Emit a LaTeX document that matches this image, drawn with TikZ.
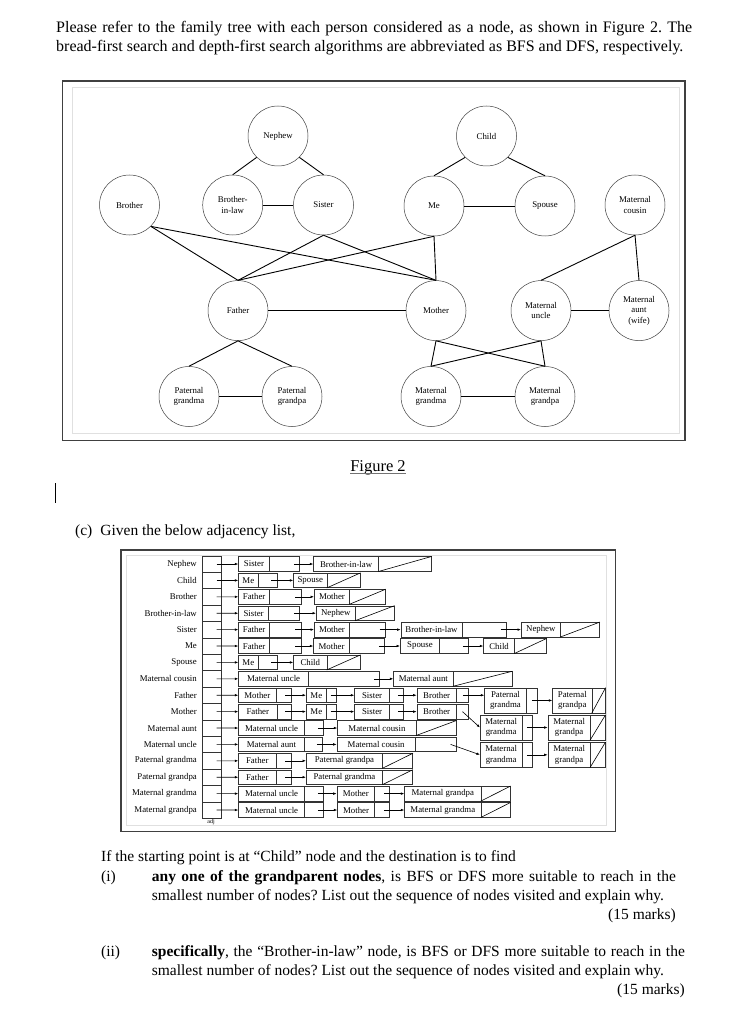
\documentclass[tikz,border=0pt]{standalone}
\usepackage{fontspec}
\setmainfont{Liberation Serif}
\usetikzlibrary{arrows.meta}
\frenchspacing

% one list node: [opts]{name}{x left}{x split}{x right}{y}{text}
\newcommand{\listcell}[7][]{%
  \node[datacell,#1,minimum width={#4-#3}] (#2) at (#3,#6) {#7};
  \node[ptrcell,#1,minimum width={#5-#4}] (#2p) at (#4,#6) {};}
% last list node, pointer field crossed out
\newcommand{\listend}[7][]{%
  \listcell[#1]{#2}{#3}{#4}{#5}{#6}{#7}
  \draw[nullmark] (#2p.south west) -- (#2p.north east);}
\newcommand{\listlink}[2]{\draw[link] (#1p.east) ++(-6,0) -- (#2.west);}

\begin{document}
\begin{tikzpicture}[x=1pt, y=-1pt,
    prose/.style={anchor=base west, inner sep=0pt, font=\fontsize{15.5}{19}\selectfont},
    intro/.style={prose, font=\fontsize{16}{19}\selectfont},
    person/.style={draw=black!75, circle, minimum size=60pt, inner sep=0pt, align=center,
                   line width=0.5pt, font=\fontsize{8.8}{10.5}\selectfont},
    tie/.style={line width=0.9pt},
    frame/.style={draw=black!75, line width=1.2pt},
    innerframe/.style={draw=black!12, line width=0.8pt},
    rowname/.style={anchor=east, inner sep=0pt, font=\fontsize{8.8}{10.5}\selectfont},
    adjcell/.style={draw=black!80, minimum width=19.4pt, minimum height=16.4pt, inner sep=0pt, line width=0.6pt},
    datacell/.style={draw=black!80, anchor=west, minimum height=14.5pt, inner sep=0pt, align=center,
                     line width=0.6pt, font=\fontsize{8.8}{10.5}\selectfont},
    ptrcell/.style={draw=black!80, anchor=west, minimum height=14.5pt, inner sep=0pt, line width=0.6pt},
    tall/.style={minimum height=25pt},
    nullmark/.style={line width=0.6pt},
    link/.style={line width=0.6pt, -{Latex[length=3.5pt,width=2.6pt]}}]

\fill[white] (0,0) rectangle (750,1024);
\useasboundingbox (0,0) rectangle (750,1024);

% question text
\node[intro] (intro1) at (56,32.7) {\makebox[636pt][s]{Please refer to the family tree with each person considered as a node, as shown in Figure 2. The}};
\node[intro] (intro2) at (56,51.7) {bread-first search and depth-first search algorithms are abbreviated as BFS and DFS, respectively.};

% figure 2
\draw[frame] (62.7,81) rectangle (685,440.5);
\draw[innerframe] (72,87) rectangle (679,433);

\node[person] (nephew) at (278,136) {Nephew};
\node[person] (child) at (486.5,136) {Child};
\node[person] (brother) at (129.5,205) {Brother};
\node[person] (bil) at (232.7,205) {Brother-\\in-law};
\node[person] (sister) at (323.5,205) {Sister};
\node[person] (me) at (434,206) {Me};
\node[person] (spouse) at (545,206) {Spouse};
\node[person] (mcousin) at (635,205) {Maternal\\cousin};
\node[person] (father) at (238,310.6) {Father};
\node[person] (mother) at (436,310.6) {Mother};
\node[person] (muncle) at (541,310.6) {Maternal\\uncle};
\node[person] (maunt) at (639,310.6) {Maternal\\aunt\\(wife)};
\node[person] (pgma) at (189,396.5) {Paternal\\grandma};
\node[person] (pgpa) at (292,396.5) {Paternal\\grandpa};
\node[person] (mgma) at (431,396.5) {Maternal\\grandma};
\node[person] (mgpa) at (545,396.5) {Maternal\\grandpa};

\draw[tie] (nephew.south west) -- (bil.north);
\draw[tie] (nephew.south east) -- (sister.north);
\draw[tie] (bil.east) -- (sister.west);
\draw[tie] (child.south west) -- (me.north);
\draw[tie] (child.south east) -- (spouse.north);
\draw[tie] (me.east) -- (spouse.west);
\draw[tie] (brother.south east) -- (father.north);
\draw[tie] (brother.south east) -- (mother.north);
\draw[tie] (sister.south) -- (father.north);
\draw[tie] (sister.south) -- (mother.north);
\draw[tie] (me.south) -- (father.north);
\draw[tie] (me.south) -- (mother.north);
\draw[tie] (mcousin.south) -- (muncle.north);
\draw[tie] (mcousin.south) -- (maunt.north);
\draw[tie] (father.east) -- (mother.west);
\draw[tie] (muncle.east) -- (maunt.west);
\draw[tie] (father.south) -- (pgma.north);
\draw[tie] (father.south) -- (pgpa.north);
\draw[tie] (pgma.east) -- (pgpa.west);
\draw[tie] (mother.south) -- (mgma.north);
\draw[tie] (mother.south) -- (mgpa.north);
\draw[tie] (muncle.south) -- (mgma.north);
\draw[tie] (muncle.south) -- (mgpa.north);
\draw[tie] (mgma.east) -- (mgpa.west);

\node[prose, anchor=base, font=\fontsize{16.5}{19}\selectfont] (figcap) at (378,471) {Figure 2};
\draw[black!55, line width=0.8pt] ([yshift=-2pt]figcap.base west) -- ([yshift=-2pt]figcap.base east);

\draw[line width=1.2pt] (55.5,483) -- (55.5,503);

\node[prose] (partc) at (75,535) {(c)\hspace{8pt}Given the below adjacency list,};

% adjacency list
\draw[frame] (121,550) rectangle (615.5,831.5);
\draw[innerframe] (126.7,555) rectangle (606.7,825);

\foreach \who [count=\i from 0] in {Nephew, Child, Brother, Brother-in-law, Sister, Me, Spouse,
    Maternal cousin, Father, Mother, Maternal aunt, Maternal uncle, Paternal grandma,
    Paternal grandpa, Maternal grandma, Maternal grandpa}
{
  \node[rowname] (name\i) at (197,564+16.4*\i) {\who};
  \node[adjcell] (adj\i) at (212,564+16.4*\i) {};
}
\node[font=\fontsize{6}{7}\selectfont, inner sep=0pt] (adjname) at (211,822) {adj};

\listcell{nep1}{238.3}{269}{299.3}{564}{Sister}
\listend{nep2}{313.3}{378.3}{431}{564}{Brother-in-law}

\listcell{chi1}{238.3}{257.7}{276.7}{580.4}{Me}
\listend{chi2}{293.3}{326.7}{360}{580.4}{Spouse}

\listcell{bro1}{238.3}{269.3}{300.7}{596.8}{Father}
\listend{bro2}{314}{349.3}{385}{596.8}{Mother}

\listcell{bil1}{238.3}{268.3}{299.3}{613.2}{Sister}
\listend{bil2}{316}{355}{394}{613.2}{Nephew}

\listcell{sis1}{238.3}{269.3}{300.7}{629.6}{Father}
\listcell{sis2}{314}{349.3}{385}{629.6}{Mother}
\listcell{sis3}{400.7}{461.7}{506}{629.6}{Brother-in-law}
\listend{sis4}{521}{560}{599.3}{629.6}{Nephew}

\listcell{me1}{238.3}{269.3}{300.7}{646}{Father}
\listcell{me2}{313.3}{349.3}{384.3}{646}{Mother}
\listcell{me3}{400}{439.3}{468.3}{646}{Spouse}
\listend{me4}{483.3}{514.3}{546}{646}{Child}

\listcell{spo1}{238.3}{257.7}{276.7}{662.4}{Me}
\listend{spo2}{293.3}{326.7}{360}{662.4}{Child}

\listcell{cou1}{238.3}{308.3}{379.3}{678.8}{Maternal uncle}
\listend{cou2}{393.3}{452.7}{511.7}{678.8}{Maternal aunt}

\listcell{fat1}{238.3}{275.7}{290.7}{695.2}{Mother}
\listcell{fat2}{306}{326}{336}{695.2}{Me}
\listcell{fat3}{354.3}{389.3}{403.3}{695.2}{Sister}
\listcell{fat4}{416.7}{456}{468.3}{695.2}{Brother}
\listcell[tall]{fat5}{484.3}{526}{537.3}{700.45}{Paternal\\grandma}
\listend[tall]{fat6}{552.3}{591.7}{605}{700.45}{Paternal\\grandpa}

\listcell{mot1}{238.3}{276.7}{290.7}{711.6}{Father}
\listcell{mot2}{306}{326}{336}{711.6}{Me}
\listcell{mot3}{354.3}{389.3}{403.3}{711.6}{Sister}
\listcell{mot4}{416.7}{456}{468.3}{711.6}{Brother}
\listcell[tall]{mot5}{480}{521.7}{532.3}{727.5}{Maternal\\grandma}
\listend[tall]{mot6}{547.7}{590}{605}{727.5}{Maternal\\grandpa}

\listcell{aun1}{238.3}{304.3}{323.3}{728}{Maternal uncle}
\listend{aun2}{337.3}{416}{456}{728}{Maternal cousin}

\listcell{unc1}{238.3}{304}{322.3}{744.4}{Maternal aunt}
\listcell{unc2}{336.7}{415}{456}{744.4}{Maternal cousin}
\listcell[tall]{unc3}{480}{521.7}{532.3}{754.8}{Maternal\\grandma}
\listend[tall]{unc4}{547.7}{590}{605}{754.8}{Maternal\\grandpa}

\listcell{pgm1}{238.3}{275.7}{290.7}{760.8}{Father}
\listend{pgm2}{306}{382.3}{412.3}{760.8}{Paternal grandpa}

\listcell{pgp1}{238.3}{275.7}{290.7}{777.2}{Father}
\listend{pgp2}{306}{382.3}{412.3}{777.2}{Paternal grandma}

\listcell{mgm1}{238.3}{304.3}{323.3}{793.6}{Maternal uncle}
\listcell{mgm2}{336.7}{374.3}{389.3}{793.6}{Mother}
\listend{mgm3}{404.3}{480.7}{510}{793.6}{Maternal grandpa}

\listcell{mgp1}{238.3}{304.3}{323.3}{810}{Maternal uncle}
\listcell{mgp2}{337.3}{374.3}{389.3}{810}{Mother}
\listend{mgp3}{404.3}{480.7}{510}{810}{Maternal grandma}

\foreach \i/\n in {0/nep1, 1/chi1, 2/bro1, 3/bil1, 4/sis1, 5/me1, 6/spo1, 7/cou1,
    8/fat1, 9/mot1, 10/aun1, 11/unc1, 12/pgm1, 13/pgp1, 14/mgm1, 15/mgp1}
  \draw[link] (adj\i.center) ++(4.5,0) -- (\n.west);

\listlink{nep1}{nep2}
\listlink{chi1}{chi2}
\listlink{bro1}{bro2}
\listlink{bil1}{bil2}
\listlink{sis1}{sis2} \listlink{sis2}{sis3} \listlink{sis3}{sis4}
\listlink{me1}{me2} \listlink{me2}{me3} \listlink{me3}{me4}
\listlink{spo1}{spo2}
\listlink{cou1}{cou2}
\listlink{fat1}{fat2} \listlink{fat2}{fat3} \listlink{fat3}{fat4}
\draw[link] (fat4p.east) ++(-6,0) -- (fat5.west |- fat4p.center);
\listlink{fat5}{fat6}
\listlink{mot1}{mot2} \listlink{mot2}{mot3} \listlink{mot3}{mot4}
\draw[link] (mot4p.center) -- (mot5.west);
\listlink{mot5}{mot6}
\listlink{aun1}{aun2}
\listlink{unc1}{unc2}
\draw[link] (unc2p.east) ++(-6,0) -- (unc3.west);
\listlink{unc3}{unc4}
\listlink{pgm1}{pgm2}
\listlink{pgp1}{pgp2}
\listlink{mgm1}{mgm2} \listlink{mgm2}{mgm3}
\listlink{mgp1}{mgp2} \listlink{mgp2}{mgp3}

% part (c) questions
\node[prose] (ask) at (101,861) {If the starting point is at “Child” node and the destination is to find};
\node[prose] (num1) at (101,881) {(i)};
\node[prose] (ask1a) at (151.7,881) {\makebox[524pt][s]{\textbf{any one of the grandparent nodes}, is BFS or DFS more suitable to reach in the}};
\node[prose] (ask1b) at (151.7,900) {smallest number of nodes? List out the sequence of nodes visited and explain why.};
\node[prose, anchor=base east] (marks1) at (676,919) {(15 marks)};
\node[prose] (num2) at (101,956) {(ii)};
\node[prose] (ask2a) at (151.7,956) {\makebox[533pt][s]{\textbf{specifically}, the “Brother-in-law” node, is BFS or DFS more suitable to reach in the}};
\node[prose] (ask2b) at (151.7,975) {smallest number of nodes? List out the sequence of nodes visited and explain why.};
\node[prose, anchor=base east] (marks2) at (685,994) {(15 marks)};

\end{tikzpicture}
\end{document}
